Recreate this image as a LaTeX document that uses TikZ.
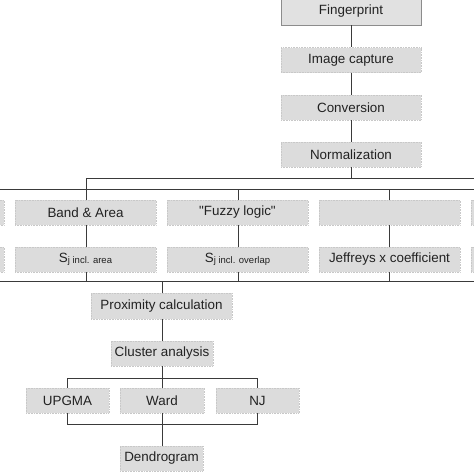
\documentclass[tikz,border=0pt]{standalone}
\usepackage{fontspec}
\setmainfont{Liberation Sans}[Ligatures=TeXOff]
\definecolor{boxfill}{HTML}{DCDCDC}
\definecolor{boxedge}{HTML}{C8C8C8}
\definecolor{linec}{HTML}{3A3A3A}
\definecolor{textc}{HTML}{222222}
\begin{document}
\begin{tikzpicture}[x=1pt,y=-1pt,
  box/.style={rectangle, fill=boxfill, draw=boxedge, densely dotted, line width=0.6pt,
    minimum height=25pt, inner sep=0pt, text=textc,
    font=\fontsize{13.4}{14}\selectfont},
  topbox/.style={box, solid, draw=gray!90, fill=boxfill!85!white, line width=0.8pt},
  conn/.style={draw=linec, line width=1pt, solid}]
\useasboundingbox (0,0) rectangle (474,474);
\begin{scope}
\clip (0,0) rectangle (474,474);
% top chain
\node[topbox, minimum width=140pt, minimum height=28pt] (fp) at (351,11) {Fingerprint};
\node[box, minimum width=140pt] (ic) at (351,60) {Image capture};
\node[box, minimum width=140pt] (cv) at (351,107.5) {Conversion};
\node[box, minimum width=140pt] (nm) at (351,154.5) {Normalization};
% row 1
\node[box, minimum width=141pt] (a0) at (-66.5,212.5) {};
\node[box, minimum width=141pt] (a1) at (85.5,212.5) {Band \& Area};
\node[box, minimum width=141pt] (a2) at (237.5,212.5) {"Fuzzy logic"};
\node[box, minimum width=141pt] (a3) at (389.5,212.5) {};
\node[box, minimum width=141pt] (a4) at (541.5,212.5) {};
% row 2
\newcommand{\smallsub}[1]{\raisebox{-1.2pt}{\fontsize{9.5}{10}\selectfont #1}}
\node[box, minimum width=141pt] (b0) at (-66.5,259.5) {};
\node[box, minimum width=141pt] (b1) at (85.5,259.5) {S\smallsub{j incl. area}};
\node[box, minimum width=141pt] (b2) at (237.5,259.5) {S\smallsub{j incl. overlap}};
\node[box, minimum width=141pt] (b3) at (389.5,259.5) {Jeffreys x coefficient};
\node[box, minimum width=141pt] (b4) at (541.5,259.5) {};
% lower part
\node[box, minimum width=141pt, minimum height=26pt] (px) at (161.5,306) {Proximity calculation};
\node[box, minimum width=102pt] (ca) at (162,353.5) {Cluster analysis};
\node[box, minimum width=83pt] (up) at (67.5,400.5) {UPGMA};
\node[box, minimum width=84pt] (wd) at (162,400.5) {Ward};
\node[box, minimum width=83pt] (nj) at (257.5,400.5) {NJ};
\node[box, minimum width=83pt] (dg) at (161.5,458.5) {Dendrogram};
% coordinates
\coordinate (h1) at (86,178);
\coordinate (h1r) at (480,178);
\coordinate (h2l) at (-6,189);
\coordinate (h2r) at (480,189);
\coordinate (h3l) at (-6,281);
\coordinate (h3r) at (480,281);
\coordinate (v1) at (86,0);
\coordinate (v2) at (238,0);
\coordinate (v3) at (389,0);
\coordinate (vc) at (162,0);
\coordinate (br1) at (0,378);
\coordinate (br2) at (0,424);
\coordinate (bl) at (67,0);
\coordinate (brr) at (257,0);
% connectors top
\draw[conn] (fp.south) -- (ic.north);
\draw[conn] (ic.south) -- (cv.north);
\draw[conn] (cv.south) -- (nm.north);
\draw[conn] (nm.south) |- (h1r);
\draw[conn] (nm.south) |- (h1) -- (v1 |- a1.north);
\draw[conn] (h2l) -- (h2r);
\draw[conn] (v2 |- h2l) -- (v2 |- a2.north);
\draw[conn] (v3 |- h2l) -- (v3 |- a3.north);
\draw[conn] (v1 |- a1.south) -- (v1 |- b1.north);
\draw[conn] (v2 |- a2.south) -- (v2 |- b2.north);
\draw[conn] (v3 |- a3.south) -- (v3 |- b3.north);
\draw[conn] (v1 |- b1.south) -- (v1 |- h3l);
\draw[conn] (v2 |- b2.south) -- (v2 |- h3l);
\draw[conn] (v3 |- b3.south) -- (v3 |- h3l);
\draw[conn] (h3l) -- (h3r);
\draw[conn] (vc |- h3l) -- (vc |- px.north);
% lower connectors
\draw[conn] (vc |- px.south) -- (vc |- ca.north);
\draw[conn] (vc |- ca.south) -- (vc |- wd.north);
\draw[conn] (bl |- up.north) -- (bl |- br1) -- (brr |- br1) -- (brr |- nj.north);
\draw[conn] (bl |- up.south) -- (bl |- br2) -- (brr |- br2) -- (brr |- nj.south);
\draw[conn] (vc |- wd.south) -- (vc |- dg.north);
\end{scope}
\end{tikzpicture}
\end{document}
